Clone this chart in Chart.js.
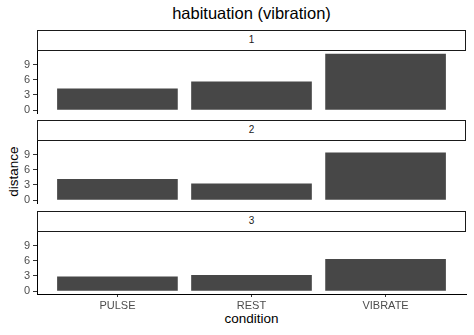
<!DOCTYPE html>
<html>
<head>
<meta charset="utf-8">
<script src="https://cdn.jsdelivr.net/npm/chart.js@4/dist/chart.umd.min.js"></script>
<style>
  body { margin: 0; background: #fff; }
  #wrap { position: relative; width: 474px; height: 335px; font-family: "Liberation Sans", Arial, sans-serif; }
  #wrap canvas { position: absolute; left: 0; }
  .strip { position: absolute; left: 37px; width: 429px; height: 21px; box-sizing: border-box;
           border: 1.5px solid #1a1a1a; background: #fff; font-size: 10px; color: #1a1a1a;
           text-align: center; line-height: 18px; z-index: 2; }
  .lbl { position: absolute; color: #000; white-space: nowrap; }
</style>
</head>
<body>
<div id="wrap">
  <div class="lbl" id="title" style="left:0;width:503px;top:4px;text-align:center;font-size:16.5px;">habituation (vibration)</div>
  <div class="lbl" style="left:0;width:503px;top:311px;text-align:center;font-size:13.5px;">condition</div>
  <div class="lbl" style="left:-27px;top:164px;width:80px;text-align:center;font-size:13.5px;transform:rotate(-90deg);">distance</div>
</div>
<script>
// facet panels (the "1", "2", "3" strips)
const panels = ['1', '2', '3'];
const conditions = ['PULSE', 'REST', 'VIBRATE'];
// distance per panel, in condition order
const distance1 = [4.26, 5.64, 11.1];
const distance2 = [4.17, 3.3, 9.4];
const distance3 = [2.88, 3.2, 6.34];
const yTicks = [0, 3, 6, 9];

const allData = [distance1, distance2, distance3];

// ggplot-like expansion: 5% on the y range, 0.6 on discrete x
const maxDist = Math.max(...distance1, ...distance2, ...distance3);
const yMin = -0.05 * maxDist;
const yMax = maxDist * 1.05;

const wrap = document.getElementById('wrap');
const areaTops = [51, 141, 232];
const stripTops = [30, 120, 211];
const areaH = 62;

panels.forEach((p, i) => {
    let strip = document.createElement('div');
    strip.className = 'strip';
    strip.style.top = stripTops[i] + 'px';
    strip.textContent = p;
    wrap.appendChild(strip);

    const last = i === panels.length - 1;
    let canvas = document.createElement('canvas');
    const cTop = areaTops[i] - 10;
    const cH = last ? 335 - cTop : areaH + 20;
    canvas.style.top = cTop + 'px';
    canvas.width = 474;
    canvas.height = cH;
    canvas.style.width = '474px';
    canvas.style.height = cH + 'px';
    wrap.appendChild(canvas);

    new Chart(canvas, {
        type: 'bar',
        data: {
            datasets: [{
                data: allData[i].map((v, k) => ({ x: k + 1, y: v })),
                backgroundColor: '#474747',
                borderWidth: 0,
                barPercentage: 0.9,
                categoryPercentage: 1
            }]
        },
        options: {
            responsive: false,
            animation: false,
            layout: { padding: { top: 10, right: 8, left: 0, bottom: last ? 21 : 10 } },
            plugins: { legend: { display: false }, tooltip: { enabled: false } },
            scales: {
                x: {
                    type: 'linear',
                    display: last,
                    offset: false,
                    min: 0.4,
                    max: conditions.length + 0.6,
                    afterBuildTicks: s => { s.ticks = conditions.map((c, k) => ({ value: k + 1 })); },
                    afterFit: s => { s.height = last ? 20 : 0; },
                    ticks: {
                        callback: v => conditions[v - 1],
                        color: '#4d4d4d',
                        font: { family: '"Liberation Sans", Arial, sans-serif', size: 11 },
                        padding: 2,
                        maxRotation: 0,
                        autoSkip: false
                    },
                    grid: { offset: false, drawOnChartArea: false, drawTicks: true, tickLength: 3, color: '#333' },
                    border: { display: true, color: '#000', width: 1 }
                },
                y: {
                    min: yMin,
                    max: yMax,
                    afterBuildTicks: s => { s.ticks = yTicks.map(v => ({ value: v })); },
                    afterFit: s => { s.width = 37; },
                    ticks: {
                        color: '#4d4d4d',
                        font: { family: '"Liberation Sans", Arial, sans-serif', size: 11 },
                        padding: 3,
                        autoSkip: false
                    },
                    grid: { drawOnChartArea: false, drawTicks: true, tickLength: 4, color: '#333' },
                    border: { display: true, color: '#000', width: 1 }
                }
            }
        }
    });
});
</script>
</body>
</html>
